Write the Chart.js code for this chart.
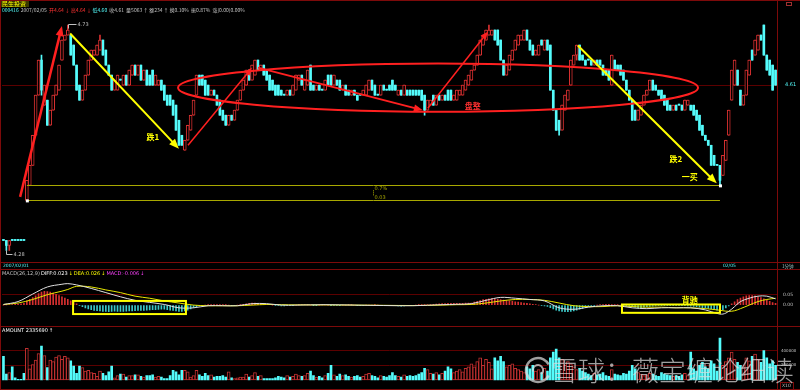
<!DOCTYPE html>
<html>
<head>
<meta charset="utf-8">
<script src="https://cdn.jsdelivr.net/npm/chart.js@4.4.1/dist/chart.umd.min.js"></script>
<style>
  html, body { margin: 0; padding: 0; background: #000; }
  #frame { position: relative; width: 800px; height: 390px; overflow: hidden; background: #000; }
  #frame canvas { position: absolute; left: 0; }
  .rule { position: absolute; background: #7d0a0a; z-index: 2; }
  #mark { position: absolute; left: 551px; top: 350px; font: 300 27px "Noto Sans CJK SC"; color: rgba(220, 220, 220, 0.72); white-space: nowrap; z-index: 3; }
</style>
</head>
<body>
<div id="frame">
  <canvas id="price-chart" width="800" height="270" style="top:0"></canvas>
  <canvas id="macd-chart" width="800" height="57" style="top:270px"></canvas>
  <canvas id="amount-chart" width="800" height="63" style="top:327px"></canvas>
  <div class="rule" style="left:0;top:0;width:800px;height:1px"></div>
  <div class="rule" style="left:0;top:0;width:1px;height:390px"></div>
  <div class="rule" style="left:777px;top:0;width:1px;height:390px"></div>
  <div class="rule" style="left:0;top:262px;width:800px;height:1px"></div>
  <div class="rule" style="left:0;top:269px;width:800px;height:1px"></div>
  <div class="rule" style="left:0;top:326px;width:800px;height:1px"></div>
  <div class="rule" style="left:0;top:389px;width:800px;height:1px"></div>
  <div id="mark">雪球：薇宝缠论细读</div>
</div>
<script>
// prices in cents (4.61 -> 461), one candle per minute
const opens = [
  430,430,429,430,430,430,430,430,438,441, 445,451,459,466,457,458,453,456,459,460,
  466,470,471,471,469,465,461,458,460,463, 466,467,467,468,470,468,465,463,460,460,
  462,461,463,461,463,465,463,465,462,464, 463,464,461,461,462,461,459,459,458,457,
  454,451,448,450,452,455,459,463,463,462, 461,459,460,459,458,456,455,453,455,454,
  456,458,460,461,464,462,463,466,464,465, 464,463,462,461,461,460,459,459,460,459,
  460,462,463,460,461,465,461,460,461,460, 460,463,463,461,462,462,460,461,460,459,
  460,459,459,459,459,460,462,461,459,459, 461,460,461,462,461,459,460,459,460,460,
  460,460,460,460,459,456,457,459,457,459, 458,459,460,460,458,458,459,459,460,461,
  462,464,465,467,469,470,471,471,472,472, 470,466,463,464,466,468,469,470,470,472,
  470,469,467,467,470,468,470,469,460,456, 454,452,456,458,461,465,467,469,467,466,
  466,466,465,466,466,465,464,464,461,466, 465,465,464,462,460,458,456,454,455,457,
  459,460,462,461,460,460,459,458,457,456, 457,457,457,456,457,457,457,456,455,453,
  451,450,449,447,445,445,443,446,451,458, 461,464,460,457,459,463,468,467,468,471,
  473,467,466,465,464
];
const closes = [
  430,429,430,430,430,430,430,430,442,445, 451,459,466,460,461,453,456,459,461,465,
  470,471,472,467,465,460,458,460,463,466, 468,468,469,470,467,465,463,460,462,463,
  462,463,461,464,465,463,465,462,464,461, 461,461,463,462,460,458,457,457,455,452,
  449,449,450,453,455,458,463,461,461,459, 459,460,459,457,455,454,453,455,454,456,
  458,460,462,464,462,465,466,464,465,463, 462,460,460,459,459,459,459,460,459,461,
  463,463,461,462,464,460,460,461,460,460, 462,461,461,463,461,460,461,459,459,460,
  459,458,459,460,461,462,460,459,459,461, 460,460,460,460,460,460,459,461,459,459,
  459,459,459,458,456,458,458,457,459,458, 459,458,458,458,459,460,460,461,462,463,
  464,465,467,470,471,472,472,472,470,469, 466,463,465,467,468,470,471,471,472,470,
  468,467,468,469,469,470,468,460,456,452, 452,457,459,460,466,467,469,466,466,465,
  466,465,466,465,465,463,463,462,467,464, 464,463,462,460,458,454,454,456,457,459,
  460,462,460,460,459,458,457,456,456,457, 456,457,456,458,458,456,455,454,452,451,
  450,449,445,445,445,442,447,450,456,464, 466,461,457,459,464,466,466,470,471,470,
  467,464,463,460,461
];
// candles whose shadow reaches past the body
const wickIdx = [1, 2, 13, 22, 33, 62, 144, 166, 190, 196, 208, 245, 260];
const wickHigh = [430, 430, 467, 473, 471, 450, 459, 473, 454, 469, 467, 445, 473];
const wickLow = [428, 428, 459, 471, 468, 448, 455, 471, 451, 466, 461, 441, 467];

// turnover, units of 10000
const amounts = [
  32,8,10,18,3,1,1,9,43,15, 21,27,36,46,33,17,27,25,31,33,
  28,32,30,26,19,9,19,17,12,13, 10,9,5,12,9,6,11,19,3,6,
  8,8,4,6,6,7,7,5,4,6, 6,7,4,5,4,2,2,6,13,11,
  7,13,13,11,4,6,13,7,5,9, 6,7,4,5,5,6,4,11,3,2,
  3,4,4,8,4,6,10,5,6,2, 2,2,2,3,5,4,3,6,4,5,
  8,6,5,6,9,12,6,4,5,3, 6,9,20,7,5,8,6,7,5,4,
  5,6,4,5,8,9,6,5,3,6, 5,4,6,10,6,5,4,7,5,6,
  5,6,8,10,16,14,9,8,10,7, 9,12,18,15,10,12,14,11,16,18,
  22,18,25,30,20,28,24,15,30,26, 32,25,18,20,22,16,14,12,10,18,
  15,20,12,14,10,16,12,30,38,42, 30,28,20,25,22,18,14,16,12,10,
  8,6,9,7,8,10,6,5,14,8, 7,6,9,8,12,20,15,10,8,6,
  7,9,8,6,5,10,8,7,6,5, 6,5,7,9,6,38,15,12,20,24,
  18,15,26,22,12,57,20,25,30,38, 28,24,20,18,30,26,32,35,28,24,
  40,30,22,26,20
];

// MACD histogram, units of 0.001
const macdBars = [
  0,1,2,3,4,5,6,8,20,28, 36,45,55,62,66,65,62,58,52,46,
  40,34,28,20,14,6,-2,-8,-14,-18, -22,-25,-27,-28,-30,-30,-31,-30,-29,-30,
  -30,-30,-29,-28,-28,-27,-26,-25,-25,-24, -23,-22,-22,-21,-20,-20,-22,-24,-26,-28,
  -30,-30,-28,-24,-18,-12,-8,-4,-2,0, 1,2,2,3,3,2,1,0,-1,-1,
  0,2,4,6,8,10,10,9,8,6, 4,2,0,-2,-3,-4,-4,-3,-2,-1,
  0,1,2,2,1,0,-1,-1,0,1, 1,0,-1,-2,-2,-1,0,0,1,1,
  0,-1,-1,-1,0,0,0,1,0,-1, -1,-2,-2,-2,-3,-4,-5,-4,-3,-2,
  -1,0,1,1,2,3,3,4,5,6, 7,7,8,8,8,9,9,9,10,10,
  10,14,18,22,26,28,30,31,30,28, 26,24,22,20,18,16,14,12,10,8,
  6,4,2,0,-2,-4,-6,-12,-18,-24, -28,-30,-32,-32,-30,-28,-24,-20,-16,-12,
  -8,-4,-2,0,2,3,4,4,3,2, 1,0,-1,-4,-6,-8,-10,-12,-12,-10,
  -8,-6,-5,-4,-3,-3,-2,-2,-2,-3, -3,-2,-2,-3,-4,-5,-6,-8,-10,-12,
  -14,-16,-18,-20,-24,-26,-22,-14,-4,6, 16,26,34,40,44,46,46,44,40,36,
  30,24,18,12,8
];
// DIFF / DEA read at these candles, units of 0.001
const macdIdx = [0,5,10,15,20,22,25,30,35,40, 45,50,55,60,65,70,75,80,85,90,
  95,100,110,120,130,140,150,155,160,165, 170,175,180,185,190,195,200,205,210,215,
  220,225,230,235,240,244,246,248,250,252, 255,258,261,264];
const diffVals = [3,17,53,87,100,103,97,80,60,40, 23,13,3,-13,-13,-3,-3,-3,7,7,
  0,0,2,0,-2,-3,2,4,7,23, 37,33,27,20,-13,-20,-10,-3,-3,-13,
  -17,-13,-13,-13,-23,-40,-43,-30,-7,17, 33,43,43,30];
const deaVals = [3,10,27,50,67,75,90,87,73,60, 43,33,20,10,0,-3,-3,-3,0,3,
  2,1,1,0,-1,-2,0,2,3,10, 20,27,27,23,10,-3,-7,-7,-3,-7,
  -10,-10,-13,-13,-17,-23,-27,-30,-27,-17, 0,17,27,33];

// hand-drawn marks, in (candle, price) terms
const arrows = [
  { from: [5.7, 438.7], to: [20.0, 472.8], color: "#ff2020", width: 2.5, head: 10 },
  { from: [22.8, 471.3], to: [60.0, 448.3], color: "#ffff00", width: 2, head: 10 },
  { from: [63.1, 449.0], to: [85.0, 464.5], color: "#ff2020", width: 1.5, head: 8 },
  { from: [87.0, 464.5], to: [143.4, 456.0], color: "#ff2020", width: 2, head: 9 },
  { from: [145.1, 456.4], to: [165.7, 471.7], color: "#ff2020", width: 1.5, head: 8 },
  { from: [196.4, 468.9], to: [243.9, 441.4], color: "#ffff00", width: 2, head: 10 },
];
const ring = { center: [148.6, 460.5], radius: [88.9, 4.8] };
const levelPrices = [441, 438];
const levelSpan = [8, 245];
const notes = [
  { text: "跌1", at: [51.1, 450.6], color: "#ffff00" },
  { text: "盘整", at: [160.5, 456.8], color: "#ff3030" },
  { text: "跌2", at: [229.9, 446.3], color: "#ffff00" },
  { text: "一买", at: [234.7, 442.7], color: "#ffff00" },
];
const macdBoxes = [
  { from: [23.8, 20], to: [62.4, -43] },
  { from: [211.5, 3], to: [245.0, -37] },
];

const CYAN = "#54fcfc";
const RED = "#d83030";
const GREY = "#c0c0c0";
const GRID = "#5c0000";
const CJK = '"Noto Sans CJK SC", "DejaVu Sans", sans-serif';
const SANS = '"DejaVu Sans", sans-serif';

const candleIndex = opens.map((_, i) => i);
const isUp = opens.map((o, i) => closes[i] > o);
const highs = opens.map((o, i) => Math.max(o, closes[i]));
const lows = opens.map((o, i) => Math.min(o, closes[i]));
wickIdx.forEach((k, j) => {
  highs[k] = Math.max(highs[k], wickHigh[j]);
  lows[k] = Math.min(lows[k], wickLow[j]);
});

Chart.defaults.font.family = SANS;

function hiddenX() {
  return { type: "category", display: false, offset: true, grid: { display: false } };
}

function rightAxis(min, max, values, format, color, size, padding) {
  return {
    position: "right",
    min,
    max,
    afterFit(axis) { axis.width = 23; },
    afterBuildTicks(axis) { axis.ticks = values.map((value) => ({ value })); },
    ticks: { color, padding, font: { size, family: SANS }, callback: format },
    grid: { color: GRID, drawTicks: false },
    border: { display: false },
  };
}

function arrow(ctx, x1, y1, x2, y2, color, width, head) {
  const a = Math.atan2(y2 - y1, x2 - x1);
  const c = Math.cos(a), s = Math.sin(a);
  ctx.strokeStyle = color;
  ctx.fillStyle = color;
  ctx.lineWidth = width;
  ctx.beginPath();
  ctx.moveTo(x1, y1);
  ctx.lineTo(x2 - c * head * 0.7, y2 - s * head * 0.7);
  ctx.stroke();
  ctx.beginPath();
  ctx.moveTo(x2, y2);
  ctx.lineTo(x2 - c * head + s * head * 0.4, y2 - s * head - c * head * 0.4);
  ctx.lineTo(x2 - c * head - s * head * 0.4, y2 - s * head + c * head * 0.4);
  ctx.closePath();
  ctx.fill();
}

function textRun(ctx, runs, x, y, font) {
  ctx.font = font;
  ctx.textBaseline = "middle";
  ctx.textAlign = "left";
  runs.forEach(([text, color]) => {
    ctx.fillStyle = color;
    ctx.fillText(text, x, y);
    x += ctx.measureText(text).width + 1;
  });
}

const priceNotes = {
  id: "priceNotes",
  afterDatasetsDraw(chart) {
    const { ctx, scales: { x, y } } = chart;
    const px = (i) => x.getPixelForValue(i);
    const py = (p) => y.getPixelForValue(p);
    ctx.save();

    ctx.strokeStyle = "#a8a800";
    ctx.lineWidth = 1;
    levelPrices.forEach((p) => {
      const yy = Math.round(py(p)) + 0.5;
      ctx.beginPath();
      ctx.moveTo(px(levelSpan[0]), yy);
      ctx.lineTo(px(levelSpan[1]), yy);
      ctx.stroke();
    });
    const lx = Math.round(px(126.4)) + 0.5;
    ctx.setLineDash([1, 1]);
    ctx.beginPath();
    ctx.moveTo(lx, py(levelPrices[0]) + 5);
    ctx.lineTo(lx, py(levelPrices[1]) - 5);
    ctx.stroke();
    ctx.setLineDash([]);
    ctx.fillStyle = "#a8a800";
    ctx.font = `5px ${SANS}`;
    ctx.textBaseline = "middle";
    ctx.fillText("0.7%", lx + 1, py(levelPrices[0]) + 3);
    ctx.fillText("0.03", lx + 1, py(levelPrices[1]) - 3);

    ctx.fillStyle = "#ffffff";
    ctx.fillRect(px(levelSpan[0]) - 1, py(levelPrices[1]) - 1, 3, 3);
    ctx.fillRect(px(levelSpan[1]) - 1, py(levelPrices[0]) - 1, 3, 3);

    ctx.strokeStyle = "#ff2020";
    ctx.lineWidth = 2;
    const cx = px(ring.center[0]), cy = py(ring.center[1]);
    ctx.beginPath();
    ctx.ellipse(cx, cy, px(ring.center[0] + ring.radius[0]) - cx, cy - py(ring.center[1] + ring.radius[1]), 0, 0, Math.PI * 2);
    ctx.stroke();

    arrows.forEach((a) => arrow(ctx, px(a.from[0]), py(a.from[1]), px(a.to[0]), py(a.to[1]), a.color, a.width, a.head));

    ctx.font = `bold 8px ${CJK}`;
    ctx.textAlign = "center";
    notes.forEach((n) => {
      ctx.fillStyle = n.color;
      ctx.fillText(n.text, px(n.at[0]), py(n.at[1]));
    });

    // extreme labels
    ctx.strokeStyle = GREY;
    ctx.lineWidth = 1;
    ctx.textAlign = "left";
    ctx.font = `5px ${SANS}`;
    ctx.fillStyle = GREY;
    const hx = Math.round(px(22)) + 0.5, hy = Math.round(py(473)) + 0.5;
    ctx.beginPath();
    ctx.moveTo(hx, hy + 3);
    ctx.lineTo(hx, hy - 1);
    ctx.lineTo(hx + 8, hy - 1);
    ctx.stroke();
    ctx.fillText("4.73", hx + 9, hy - 1);
    const bx = Math.round(px(1)) + 0.5, by = Math.round(py(428)) + 0.5;
    ctx.beginPath();
    ctx.moveTo(bx, by);
    ctx.lineTo(bx, by + 4);
    ctx.lineTo(bx + 6, by + 4);
    ctx.stroke();
    ctx.fillText("4.28", bx + 7, by + 4);

    // header
    ctx.fillStyle = "#3a3a00";
    ctx.fillRect(1, 1, 28, 6);
    ctx.fillStyle = "#ffff00";
    ctx.font = `6px ${CJK}`;
    ctx.fillText("民生投资", 2, 4);
    textRun(ctx, [
      ["000416", CYAN], [" 2007/02/05 ", GREY], ["开4.64", "#ff3232"], ["↓", "#ff3232"], ["高4.64", "#ff3232"], ["↓", "#ff3232"],
      ["低4.60", CYAN], [" 收4.61", GREY], [" 量5063", GREY], ["↑", GREY], ["额234", GREY], ["↑", GREY],
      ["换0.10%", GREY], [" 振0.87%", GREY], [" 涨(0.00)0.00%", GREY],
    ], 2, 10.5, `5px ${CJK}`);

    // date strip
    ctx.font = `4.5px ${SANS}`;
    ctx.fillStyle = CYAN;
    ctx.fillText("2007/02/01", 3, 266);
    ctx.fillText("02/05", px(246), 266);
    ctx.fillStyle = "#a0c8c8";
    ctx.font = `4.5px ${CJK}`;
    ctx.fillText("1分钟", 782, 266);
    ctx.strokeStyle = "#a03030";
    ctx.strokeRect(786.5, 2.5, 5, 3);
    ctx.restore();
  },
};

new Chart(document.getElementById("price-chart"), {
  type: "bar",
  data: {
    labels: candleIndex,
    datasets: [
      {
        data: candleIndex.map((i) => [lows[i], highs[i]]),
        backgroundColor: candleIndex.map((i) => (isUp[i] ? RED : CYAN)),
        barThickness: 1, grouped: false, order: 3, minBarLength: 1,
      },
      {
        data: candleIndex.map((i) => (isUp[i] ? [opens[i], closes[i]] : null)),
        backgroundColor: "#000", borderColor: RED, borderWidth: 1, borderSkipped: false,
        barThickness: 3, grouped: false, order: 1, minBarLength: 1,
      },
      {
        data: candleIndex.map((i) => (isUp[i] ? null : [closes[i], opens[i]])),
        backgroundColor: CYAN, barThickness: 2, grouped: false, order: 2, minBarLength: 1,
      },
    ],
  },
  options: {
    responsive: false, animation: false, devicePixelRatio: 1,
    layout: { padding: { left: 2, right: 0, top: 0, bottom: 7 } },
    plugins: { legend: { display: false }, tooltip: { enabled: false } },
    scales: {
      x: hiddenX(),
      y: rightAxis(426.3, 475.8, [461], (v) => (v / 100).toFixed(2), CYAN, 5, 8),
    },
  },
  plugins: [priceNotes],
});

const macdNotes = {
  id: "macdNotes",
  afterDatasetsDraw(chart) {
    const { ctx, scales: { x, y } } = chart;
    ctx.save();
    ctx.strokeStyle = "#ffff00";
    ctx.lineWidth = 2;
    macdBoxes.forEach((b) => {
      const x1 = x.getPixelForValue(b.from[0]), x2 = x.getPixelForValue(b.to[0]);
      const y1 = y.getPixelForValue(b.from[1]), y2 = y.getPixelForValue(b.to[1]);
      ctx.strokeRect(x1, y1, x2 - x1, y2 - y1);
    });
    ctx.fillStyle = "#ffff00";
    ctx.font = `bold 8px ${CJK}`;
    ctx.textAlign = "center";
    ctx.textBaseline = "middle";
    ctx.fillText("背驰", x.getPixelForValue(234.7), y.getPixelForValue(23));
    textRun(ctx, [
      ["MACD(26,12,9)", GREY], ["DIFF:0.023", "#ffffff"], ["↓", "#ffff00"], ["DEA:0.026", "#ffff00"],
      ["↓", "#ffff00"], ["MACD:-0.006", "#ff40ff"], ["↓", "#ff40ff"],
    ], 2, 3.5, `5px ${SANS}`);
    ctx.restore();
  },
};

new Chart(document.getElementById("macd-chart"), {
  type: "bar",
  data: {
    labels: candleIndex,
    datasets: [
      {
        type: "line",
        data: macdIdx.map((k, j) => ({ x: k, y: diffVals[j] })),
        borderColor: "#e0e0e0", borderWidth: 1, pointRadius: 0, tension: 0.35, order: 1,
      },
      {
        type: "line",
        data: macdIdx.map((k, j) => ({ x: k, y: deaVals[j] })),
        borderColor: "#e8e800", borderWidth: 1, pointRadius: 0, tension: 0.35, order: 2,
      },
      {
        data: macdBars,
        backgroundColor: macdBars.map((v) => (v >= 0 ? RED : "#3cc8c8")),
        barThickness: 1, order: 3,
      },
    ],
  },
  options: {
    responsive: false, animation: false, devicePixelRatio: 1,
    layout: { padding: { left: 2, right: 0, top: 0, bottom: 0 } },
    plugins: { legend: { display: false }, tooltip: { enabled: false } },
    scales: {
      x: hiddenX(),
      y: {
        ...rightAxis(-63.3, 126.7, [50, 0], (v) => (v / 1000).toFixed(2), GREY, 4.5, 6),
        grid: { color: (c) => (c.tick && c.tick.value === 50 ? GRID : "transparent"), drawTicks: false },
      },
    },
  },
  plugins: [macdNotes],
});

const amountNotes = {
  id: "amountNotes",
  afterDatasetsDraw(chart) {
    const { ctx } = chart;
    ctx.save();
    textRun(ctx, [["AMOUNT 2335690", "#ffffff"], ["↑", "#ffffff"]], 2, 3.5, `5px ${SANS}`);
    ctx.strokeStyle = "#7d0a0a";
    ctx.strokeRect(780.5, 55.5, 13, 7);
    ctx.fillStyle = GREY;
    ctx.font = `4.5px ${SANS}`;
    ctx.fillText("X10", 782, 59);
    ctx.strokeStyle = "rgba(220, 220, 220, 0.72)";
    ctx.lineWidth = 2.5;
    ctx.beginPath();
    ctx.arc(538, 43, 12, Math.PI * 0.15, Math.PI * 1.85);
    ctx.stroke();
    ctx.lineWidth = 2;
    ctx.beginPath();
    ctx.arc(538, 43, 5, Math.PI * 0.9, Math.PI * 2.3);
    ctx.stroke();
    ctx.restore();
  },
};

new Chart(document.getElementById("amount-chart"), {
  type: "bar",
  data: {
    labels: candleIndex,
    datasets: [
      {
        data: candleIndex.map((i) => (isUp[i] ? amounts[i] : null)),
        backgroundColor: "#000", borderColor: "#c03030", borderWidth: 1, borderSkipped: false,
        barThickness: 3, grouped: false,
      },
      {
        data: candleIndex.map((i) => (isUp[i] ? null : amounts[i])),
        backgroundColor: CYAN, barThickness: 2, grouped: false,
      },
    ],
  },
  options: {
    responsive: false, animation: false, devicePixelRatio: 1,
    layout: { padding: { left: 2, right: 0, top: 0, bottom: 0 } },
    plugins: { legend: { display: false }, tooltip: { enabled: false } },
    scales: {
      x: hiddenX(),
      y: rightAxis(-4.86, 63.2, [40, 20], (v) => String(v * 10000), GREY, 4, 4),
    },
  },
  plugins: [amountNotes],
});
</script>
</body>
</html>
